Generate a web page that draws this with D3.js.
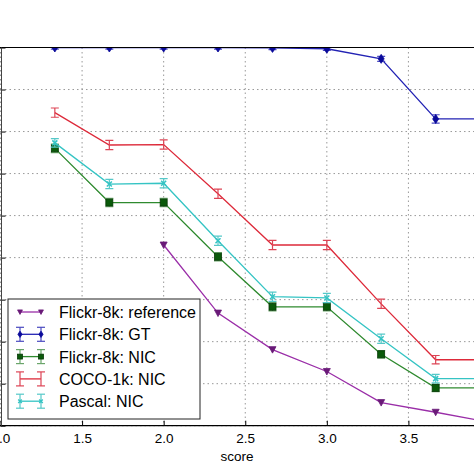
<!DOCTYPE html>
<html>
<head>
<meta charset="utf-8">
<script src="https://cdn.jsdelivr.net/npm/d3@7"></script>
<style>
body { margin: 0; background: #fff; }
text { font-family: "Liberation Sans", Arial, sans-serif; }
</style>
</head>
<body>
<div id="chart"></div>
<script>
// x positions (score)
var scores = [1.333, 1.667, 2.0, 2.333, 2.667, 3.0, 3.333, 3.667, 4.0];

// series values, null = no point
var refVals  = [null, null, 0.530, 0.368, 0.281, 0.229, 0.155, 0.132, 0.108];
var gtVals   = [1.0, 1.0, 1.0, 1.0, 0.999, 0.997, 0.973, 0.830, 0.830];
var gtErr    = [0.004, 0.004, 0.004, 0.004, 0.004, 0.004, 0.006, 0.010, 0.010];
var nicVals  = [0.760, 0.631, 0.631, 0.502, 0.383, 0.383, 0.270, 0.190, 0.190];
var nicErr   = [0.010, 0.010, 0.010, 0.010, 0.010, 0.010, 0.009, 0.009, 0.009];
var cocoVals = [0.845, 0.768, 0.769, 0.652, 0.530, 0.530, 0.390, 0.257, 0.257];
var cocoErr  = [0.011, 0.011, 0.011, 0.011, 0.011, 0.011, 0.011, 0.010, 0.010];
var pasVals  = [0.773, 0.675, 0.677, 0.540, 0.407, 0.404, 0.307, 0.212, 0.212];
var pasErr   = [0.010, 0.011, 0.011, 0.011, 0.011, 0.011, 0.011, 0.010, 0.010];

var xTicks = [1.0, 1.5, 2.0, 2.5, 3.0, 3.5];
var yTicks = [0.1, 0.2, 0.3, 0.4, 0.5, 0.6, 0.7, 0.8, 0.9, 1.0];
var legendLabels = ["Flickr-8k: reference", "Flickr-8k: GT", "Flickr-8k: NIC", "COCO-1k: NIC", "Pascal: NIC"];

var w = 474, h = 474;
var mTop = 47.5, mBottom = 425.7, mLeft = 0.5, mRight = 490;

var x = d3.scaleLinear().domain([1, 4]).range([mLeft, mRight]);
var y = d3.scaleLinear().domain([0.1, 1.0]).range([mBottom, mTop]);

var svg = d3.select("#chart").append("svg")
  .attr("width", w)
  .attr("height", h);

svg.append("defs").append("clipPath")
  .attr("id", "clip")
  .append("rect")
  .attr("x", mLeft).attr("y", mTop)
  .attr("width", mRight - mLeft).attr("height", mBottom - mTop);

// grid
var grid = svg.append("g");
grid.selectAll(".gx").data(xTicks).enter().append("line")
  .attr("x1", function(d) { return x(d); })
  .attr("x2", function(d) { return x(d); })
  .attr("y1", mTop).attr("y2", mBottom)
  .attr("stroke", "#999").attr("stroke-width", 1)
  .attr("stroke-dasharray", "1.5,3");
grid.selectAll(".gy").data(yTicks).enter().append("line")
  .attr("x1", mLeft).attr("x2", mRight)
  .attr("y1", function(d) { return y(d); })
  .attr("y2", function(d) { return y(d); })
  .attr("stroke", "#999").attr("stroke-width", 1)
  .attr("stroke-dasharray", "1.5,3");

// axes (inward ticks)
var xAxis = svg.append("g")
  .attr("transform", "translate(0," + mBottom + ")")
  .call(d3.axisBottom(x).tickValues(xTicks).tickSize(-5).tickPadding(8)
    .tickFormat(d3.format(".1f")));
xAxis.select(".domain").remove();
xAxis.selectAll("text").attr("font-size", 13.5).attr("fill", "#000")
  .attr("font-family", "Liberation Sans, Arial, sans-serif");

var yAxis = svg.append("g")
  .attr("transform", "translate(" + mLeft + ",0)")
  .call(d3.axisRight(y).tickValues(yTicks).tickSize(5).tickFormat(""));
yAxis.select(".domain").remove();

svg.append("text")
  .attr("x", x(2.45)).attr("y", 461)
  .attr("text-anchor", "middle")
  .attr("font-size", 13.5)
  .text("score");

var plot = svg.append("g").attr("clip-path", "url(#clip)");

var series = [
  { vals: refVals, err: null, color: "#9a2ea8", ecolor: "#9a2ea8", marker: "tri" },
  { vals: gtVals, err: gtErr, color: "#2323b4", ecolor: "#4a4ac0", marker: "diamond" },
  { vals: nicVals, err: nicErr, color: "#2f8a2f", ecolor: "#6aa56a", marker: "square" },
  { vals: cocoVals, err: cocoErr, color: "#dd2a3a", ecolor: "#dd4455", marker: "none" },
  { vals: pasVals, err: pasErr, color: "#35c4c4", ecolor: "#55c8c8", marker: "cross" }
];

function drawMarker(g, type, px, py, color, sz) {
  var k = sz || 1;
  if (type === "tri") {
    g.append("path").attr("d", "M" + (px - 3.5 * k) + "," + (py - 3 * k) + "L" + (px + 3.5 * k) + "," + (py - 3 * k) + "L" + px + "," + (py + 3.5 * k) + "Z")
      .attr("fill", "#6a1a78").attr("stroke", "#6a1a78").attr("stroke-width", 0.8);
  } else if (type === "diamond") {
    g.append("path").attr("d", "M" + px + "," + (py - 4.5 * k) + "L" + (px + 3 * k) + "," + py + "L" + px + "," + (py + 4.5 * k) + "L" + (px - 3 * k) + "," + py + "Z")
      .attr("fill", "#0a0a9a").attr("stroke", "#0a0a9a").attr("stroke-width", 0.8);
  } else if (type === "square") {
    g.append("rect").attr("x", px - 3.5 * k).attr("y", py - 3.5 * k).attr("width", 7 * k).attr("height", 7 * k)
      .attr("fill", "#0a5a0a").attr("stroke", "#063806").attr("stroke-width", 0.8);
  } else if (type === "cross") {
    g.append("path").attr("d", "M" + (px - 2.5 * k) + "," + (py - 2.5 * k) + "L" + (px + 2.5 * k) + "," + (py + 2.5 * k) + "M" + (px + 2.5 * k) + "," + (py - 2.5 * k) + "L" + (px - 2.5 * k) + "," + (py + 2.5 * k))
      .attr("stroke", color).attr("stroke-width", 1.5);
  }
}

function drawErr(g, px, yl, yh, color) {
  g.append("line").attr("x1", px).attr("x2", px).attr("y1", yl).attr("y2", yh)
    .attr("stroke", color).attr("stroke-width", 1.2);
  [yl, yh].forEach(function(v) {
    g.append("line").attr("x1", px - 4).attr("x2", px + 4).attr("y1", v).attr("y2", v)
      .attr("stroke", color).attr("stroke-width", 1.2);
  });
}

var line = d3.line()
  .defined(function(d) { return d[1] !== null; })
  .x(function(d) { return x(d[0]); })
  .y(function(d) { return y(d[1]); });

[0, 1, 2, 3, 4].forEach(function(i) {
  var s = series[i];
  var pts = scores.map(function(sc, j) { return [sc, s.vals[j]]; });
  var g = plot.append("g");
  g.append("path").datum(pts)
    .attr("d", line)
    .attr("fill", "none")
    .attr("stroke", s.color)
    .attr("stroke-width", 1.3);
  pts.forEach(function(p, j) {
    if (p[1] === null) return;
    var px = x(p[0]);
    if (s.err) drawErr(g, px, y(p[1] - s.err[j]), y(p[1] + s.err[j]), s.ecolor);
    drawMarker(g, s.marker, px, y(p[1]), s.color);
  });
});

// spines
svg.append("line").attr("x1", 0).attr("x2", w).attr("y1", mTop).attr("y2", mTop)
  .attr("stroke", "#000").attr("stroke-width", 1.2);
svg.append("line").attr("x1", 0).attr("x2", w).attr("y1", mBottom).attr("y2", mBottom)
  .attr("stroke", "#000").attr("stroke-width", 1.2);
svg.append("line").attr("x1", mLeft + 1).attr("x2", mLeft + 1).attr("y1", mTop).attr("y2", mBottom)
  .attr("stroke", "#444").attr("stroke-width", 1);

// legend
var lg = svg.append("g").attr("transform", "translate(8,299)");
lg.append("rect").attr("x", 0).attr("y", 0).attr("width", 192).attr("height", 120)
  .attr("fill", "#fff").attr("stroke", "#222").attr("stroke-width", 1);
legendLabels.forEach(function(lab, i) {
  var s = series[i];
  var ly = 13 + i * 22.3;
  var row = lg.append("g");
  row.append("line").attr("x1", 12).attr("x2", 33).attr("y1", ly).attr("y2", ly)
    .attr("stroke", s.color).attr("stroke-width", 1.3);
  [12, 33].forEach(function(px) {
    if (s.err) drawErr(row, px, ly - 7, ly + 7, s.ecolor);
    drawMarker(row, s.marker, px, ly, s.color, 0.7);
  });
  row.append("text").attr("x", 51).attr("y", ly + 6)
    .attr("font-size", 16).text(lab);
});
</script>
</body>
</html>
